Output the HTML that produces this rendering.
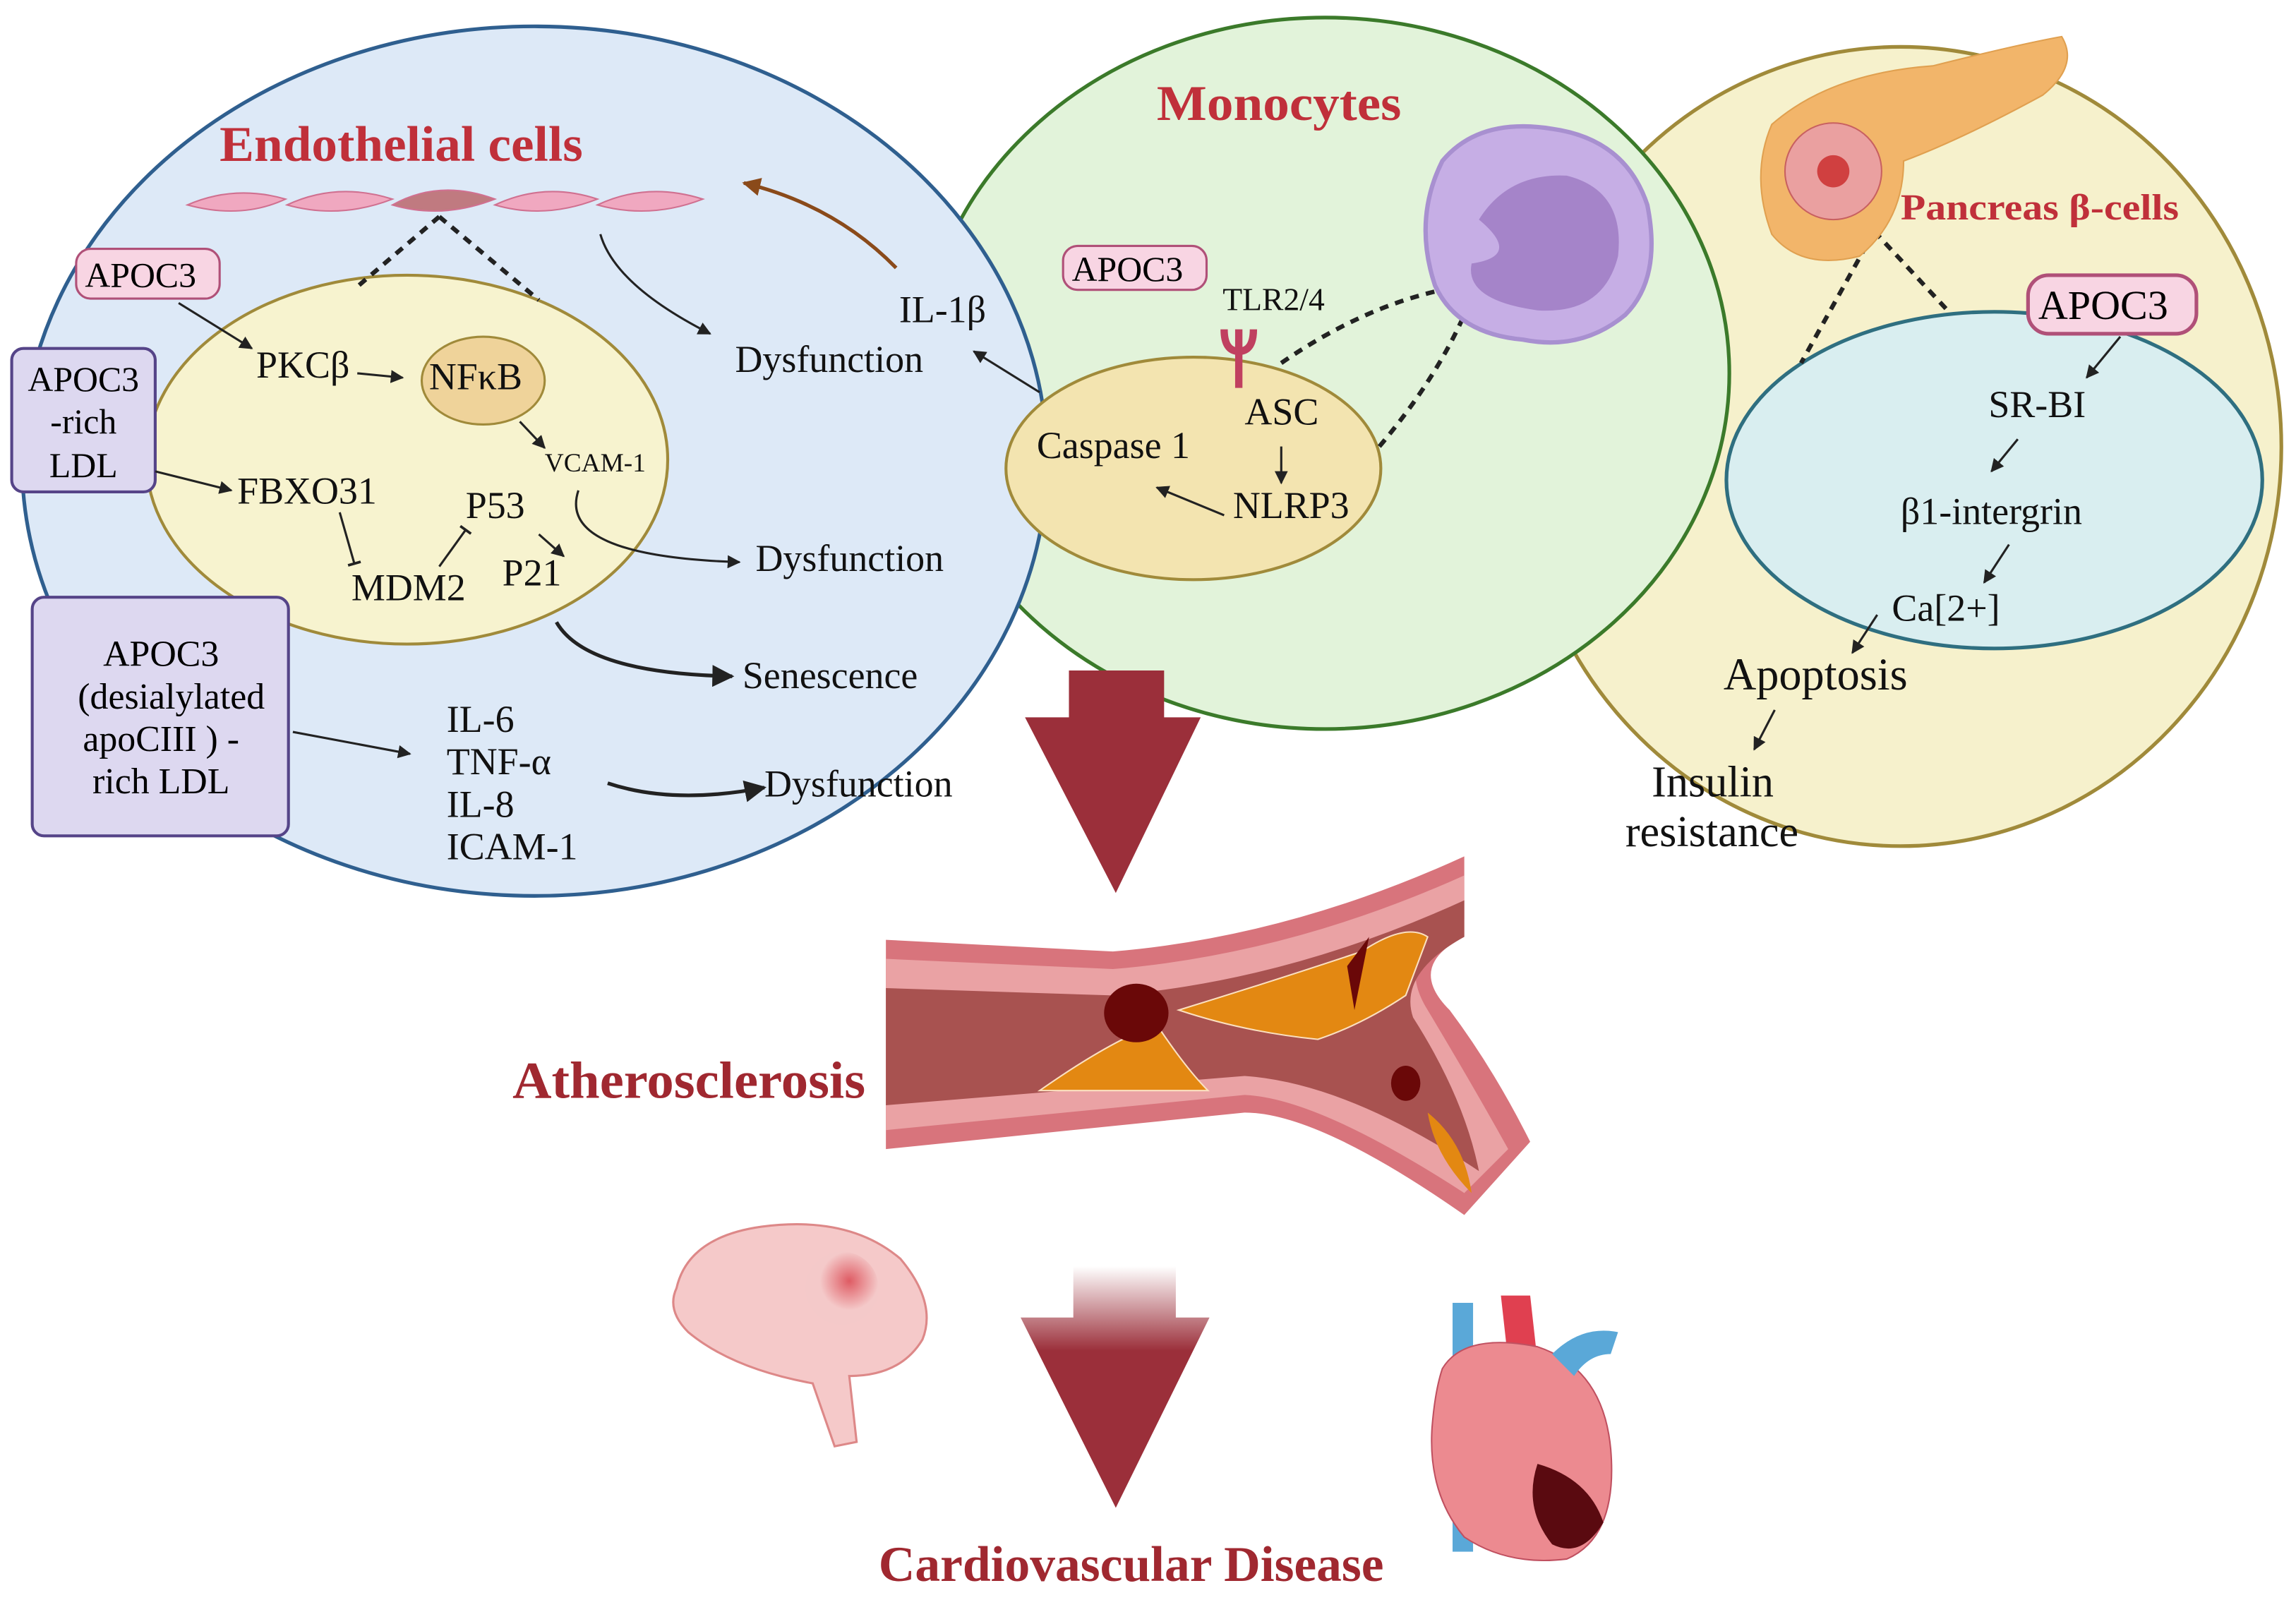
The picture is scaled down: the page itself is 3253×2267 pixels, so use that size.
<!DOCTYPE html>
<html><head><meta charset="utf-8"><style>
html,body{margin:0;padding:0;background:#fff}
svg{display:block}
text{font-family:"Liberation Serif",serif}
</style></head><body>
<svg width="3253" height="2267" viewBox="0 0 1568 1093" preserveAspectRatio="none" xmlns="http://www.w3.org/2000/svg">
<defs>
<marker id="ah" viewBox="0 0 10 10" refX="9" refY="5" markerWidth="6" markerHeight="6" orient="auto"><path d="M0,0L10,5L0,10z" fill="#222"/></marker>
<marker id="ahb" viewBox="0 0 10 10" refX="9" refY="5" markerWidth="5" markerHeight="5" orient="auto"><path d="M0,0L10,5L0,10z" fill="#8a4a1a"/></marker>
<marker id="tb" viewBox="0 0 10 10" refX="5" refY="5" markerWidth="6" markerHeight="6" orient="auto"><path d="M5,0L5,10" stroke="#222" stroke-width="2"/></marker>
<linearGradient id="g2" x1="0" y1="0" x2="0" y2="1"><stop offset="0" stop-color="#9b2f3a" stop-opacity="0"/><stop offset="0.35" stop-color="#9b2f3a"/></linearGradient>
<radialGradient id="br" cx="0.6" cy="0.4" r="0.4"><stop offset="0" stop-color="#d9404a"/><stop offset="1" stop-color="#f4c9c9"/></radialGradient>
</defs>
<ellipse cx="1298" cy="305" rx="260" ry="273" fill="#f6f1cc" stroke="#a08a3a" stroke-width="2.5"/>
<ellipse cx="905" cy="255" rx="276" ry="243" fill="#e2f3da" stroke="#3b7a2a" stroke-width="2.5"/>
<ellipse cx="365" cy="315" rx="350" ry="297" fill="#dde9f7" stroke="#2f5f8f" stroke-width="2.5"/>
<ellipse cx="278" cy="314" rx="178" ry="126" fill="#f7f3cf" stroke="#a08a3a" stroke-width="2"/>
<ellipse cx="815" cy="320" rx="128" ry="76" fill="#f3e4b0" stroke="#a08a3a" stroke-width="2"/>
<ellipse cx="1362" cy="328" rx="183" ry="115" fill="#d9eef0" stroke="#2f6f80" stroke-width="2.5"/>
<ellipse cx="330" cy="260" rx="42" ry="30" fill="#efd39a" stroke="#a08a3a" stroke-width="1.5"/>

<g fill="#f0a8c0" stroke="#d07090" stroke-width="1">
<path d="M128,140 Q160,126 195,136 Q165,150 128,140z"/>
<path d="M196,140 Q230,124 268,136 Q232,150 196,140z"/>
<path d="M268,140 Q300,122 338,136 Q302,150 268,140z" fill="#c07a80"/>
<path d="M338,140 Q372,124 408,136 Q372,150 338,140z"/>
<path d="M408,140 Q442,124 480,136 Q444,150 408,140z"/>
</g>
<g stroke="#222" stroke-width="3" stroke-dasharray="6,5" fill="none">
<path d="M300,148 L245,195"/><path d="M300,148 L368,205"/>
<path d="M875,248 Q930,210 985,198"/><path d="M942,305 Q980,260 1000,215"/>
<path d="M1280,158 L1230,248"/><path d="M1280,158 L1330,212"/>
</g>

<path d="M985,110 Q1010,80 1060,88 Q1110,95 1125,140 Q1135,190 1110,215 Q1080,240 1040,232 Q995,228 980,195 Q965,150 985,110z" fill="#c6aee5" stroke="#a890d0" stroke-width="3"/>
<path d="M1010,150 Q1030,118 1070,120 Q1110,130 1105,175 Q1095,215 1050,212 Q1000,205 1005,180 Q1040,175 1010,150z" fill="#a584c9"/>
<path d="M846,225 L846,265 M836,225 Q836,240 846,240 Q856,240 856,225" stroke="#c04060" stroke-width="5" fill="none"/>

<path d="M1210,85 Q1250,50 1320,45 Q1380,30 1408,25 Q1420,45 1395,65 Q1340,95 1300,110 Q1300,150 1270,175 Q1230,185 1210,160 Q1195,120 1210,85z" fill="#f2b56a" stroke="#e0a050"/>
<circle cx="1252" cy="117" r="33" fill="#eaa0a0" stroke="#c86060"/>
<circle cx="1252" cy="117" r="11" fill="#d04040"/>

<g font-weight="bold" fill="#c0303a">
<text x="150" y="110" font-size="34" textLength="248" lengthAdjust="spacingAndGlyphs">Endothelial cells</text>
<text x="790" y="82" font-size="34" textLength="167" lengthAdjust="spacingAndGlyphs">Monocytes</text>
<text x="1298" y="150" font-size="25" textLength="190" lengthAdjust="spacingAndGlyphs">Pancreas β-cells</text>
</g>
<g fill="#a02830" font-weight="bold">
<text x="350" y="750" font-size="36" textLength="241" lengthAdjust="spacingAndGlyphs">Atherosclerosis</text>
<text x="600" y="1080" font-size="34" textLength="345" lengthAdjust="spacingAndGlyphs">Cardiovascular Disease</text>
</g>

<rect x="52" y="170" width="98" height="34" rx="10" fill="#f8d5e3" stroke="#b05078" stroke-width="1.5"/>
<text x="58" y="196" font-size="24">APOC3</text>
<rect x="726" y="168" width="98" height="30" rx="10" fill="#f8d5e3" stroke="#b05078" stroke-width="1.5"/>
<text x="732" y="192" font-size="24">APOC3</text>
<rect x="1385" y="188" width="115" height="40" rx="14" fill="#f8d5e3" stroke="#b05078" stroke-width="2.5"/>
<text x="1392" y="218" font-size="28">APOC3</text>
<rect x="8" y="238" width="98" height="98" rx="8" fill="#ddd8f0" stroke="#554488" stroke-width="2"/>
<text x="57" y="267" font-size="24" text-anchor="middle">APOC3</text>
<text x="57" y="296" font-size="24" text-anchor="middle">-rich</text>
<text x="57" y="326" font-size="24" text-anchor="middle">LDL</text>
<rect x="22" y="408" width="175" height="163" rx="8" fill="#ddd8f0" stroke="#554488" stroke-width="2"/>
<g font-size="25" text-anchor="middle"><text x="110" y="455">APOC3</text><text x="117" y="484">(desialylated</text><text x="110" y="513">apoCIII ) -</text><text x="110" y="542">rich LDL</text></g>

<g font-size="26" fill="#111">
<text x="175" y="258">PKCβ</text><text x="293" y="266">NFκB</text>
<text x="372" y="322" font-size="18">VCAM-1</text>
<text x="162" y="344">FBXO31</text><text x="318" y="354">P53</text>
<text x="240" y="410">MDM2</text><text x="343" y="400">P21</text>
<text x="502" y="254">Dysfunction</text><text x="614" y="220">IL-1β</text>
<text x="516" y="390">Dysfunction</text><text x="507" y="470">Senescence</text>
<text x="522" y="544">Dysfunction</text>
<text x="305" y="500">IL-6</text><text x="305" y="529">TNF-α</text><text x="305" y="558">IL-8</text><text x="305" y="587">ICAM-1</text>
<text x="835" y="212" font-size="22">TLR2/4</text><text x="850" y="290">ASC</text>
<text x="708" y="313">Caspase 1</text><text x="842" y="354">NLRP3</text>
<text x="1358" y="285">SR-BI</text><text x="1298" y="358">β1-intergrin</text>
<text x="1292" y="424">Ca[2+]</text>
<text x="1177" y="471" font-size="31">Apoptosis</text>
<text x="1128" y="544" font-size="30">Insulin</text><text x="1110" y="578" font-size="30">resistance</text>
</g>

<g stroke="#222" stroke-width="1.5" fill="none" marker-end="url(#ah)">
<path d="M122,207 L172,238"/><path d="M244,255 L275,258"/><path d="M355,288 L372,306"/>
<path d="M106,322 L158,335"/><path d="M368,365 L385,380"/>
<path d="M395,335 Q380,380 505,384"/><path d="M380,425 Q400,460 500,462" stroke-width="2.5"/>
<path d="M200,500 L280,515"/><path d="M415,535 Q460,550 522,538" stroke-width="2.5"/>
<path d="M410,160 Q420,195 485,228"/><path d="M710,268 L665,240"/>
<path d="M875,305 L875,330"/><path d="M836,352 L790,333"/>
<path d="M1448,230 L1425,258"/><path d="M1378,300 L1360,322"/><path d="M1372,372 L1355,398"/>
<path d="M1282,420 L1265,446"/><path d="M1212,485 L1198,512"/>
</g>
<path d="M232,350 L242,385" stroke="#222" stroke-width="1.5" marker-end="url(#tb)"/>
<path d="M300,387 L318,362" stroke="#222" stroke-width="1.5" marker-end="url(#tb)"/>
<path d="M612,183 Q570,140 508,125" stroke="#8a4a1a" stroke-width="2.5" fill="none" marker-end="url(#ahb)"/>

<path d="M730,458 L795,458 L795,490 L820,490 L762,610 L700,490 L730,490z" fill="#9b2f3a"/>
<path d="M733,865 L803,865 L803,900 L826,900 L762,1030 L697,900 L733,900z" fill="url(#g2)"/>

<path d="M605,642 L760,650 Q880,640 1000,585 L1000,640 Q960,660 990,690 Q1020,730 1045,780 L1000,830 Q900,760 850,760 L605,785z" fill="#d8747c"/>
<path d="M605,655 L760,662 Q880,652 1000,598 L1000,628 Q950,650 975,690 Q1005,740 1030,785 L1000,815 Q900,750 850,748 L605,772z" fill="#eaa2a4"/>
<path d="M605,675 L760,680 Q880,670 1000,615 L1000,640 Q955,665 965,695 Q1000,750 1010,800 Q920,740 850,735 L605,755z" fill="#a85250"/>
<path d="M805,690 Q870,670 930,650 Q960,630 975,640 L960,680 Q930,700 900,710 Q850,705 805,690z" fill="#e38812" stroke="#fbe0c0"/>
<path d="M710,745 Q760,710 790,700 Q810,730 825,745 Z" fill="#e38812" stroke="#fbe0c0"/>
<path d="M975,760 Q1000,780 1005,815 Q980,790 975,760z" fill="#e38812"/>
<ellipse cx="776" cy="692" rx="22" ry="20" fill="#6a0808"/>
<ellipse cx="960" cy="740" rx="10" ry="12" fill="#6a0808"/>
<path d="M920,660 L935,640 L925,690z" fill="#6a0808"/>

<path d="M462,880 Q470,845 520,838 Q580,830 615,860 Q640,890 630,915 Q615,940 580,940 L585,985 L570,988 L555,945 Q500,935 470,910 Q455,895 462,880z" fill="#f5c9c9" stroke="#d88" stroke-width="1.5"/>
<circle cx="575" cy="880" r="25" fill="url(#br)" opacity="0.8"/>

<rect x="992" y="890" width="14" height="170" fill="#5aa8d8"/>
<path d="M1025,885 L1030,930 L1050,930 L1045,885z" fill="#e04050"/>
<path d="M985,935 Q1000,910 1050,920 Q1095,935 1100,990 Q1105,1050 1070,1065 Q1030,1070 1000,1050 Q975,1020 978,975 Q980,950 985,935z" fill="#ec8a90" stroke="#c05060"/>
<path d="M1050,1000 Q1085,1010 1095,1040 Q1080,1065 1060,1055 Q1040,1030 1050,1000z" fill="#5a0a10"/>
<path d="M1060,925 Q1080,905 1105,910 L1100,925 Q1085,925 1075,940z" fill="#5aa8d8"/>
</svg>
</body></html>
